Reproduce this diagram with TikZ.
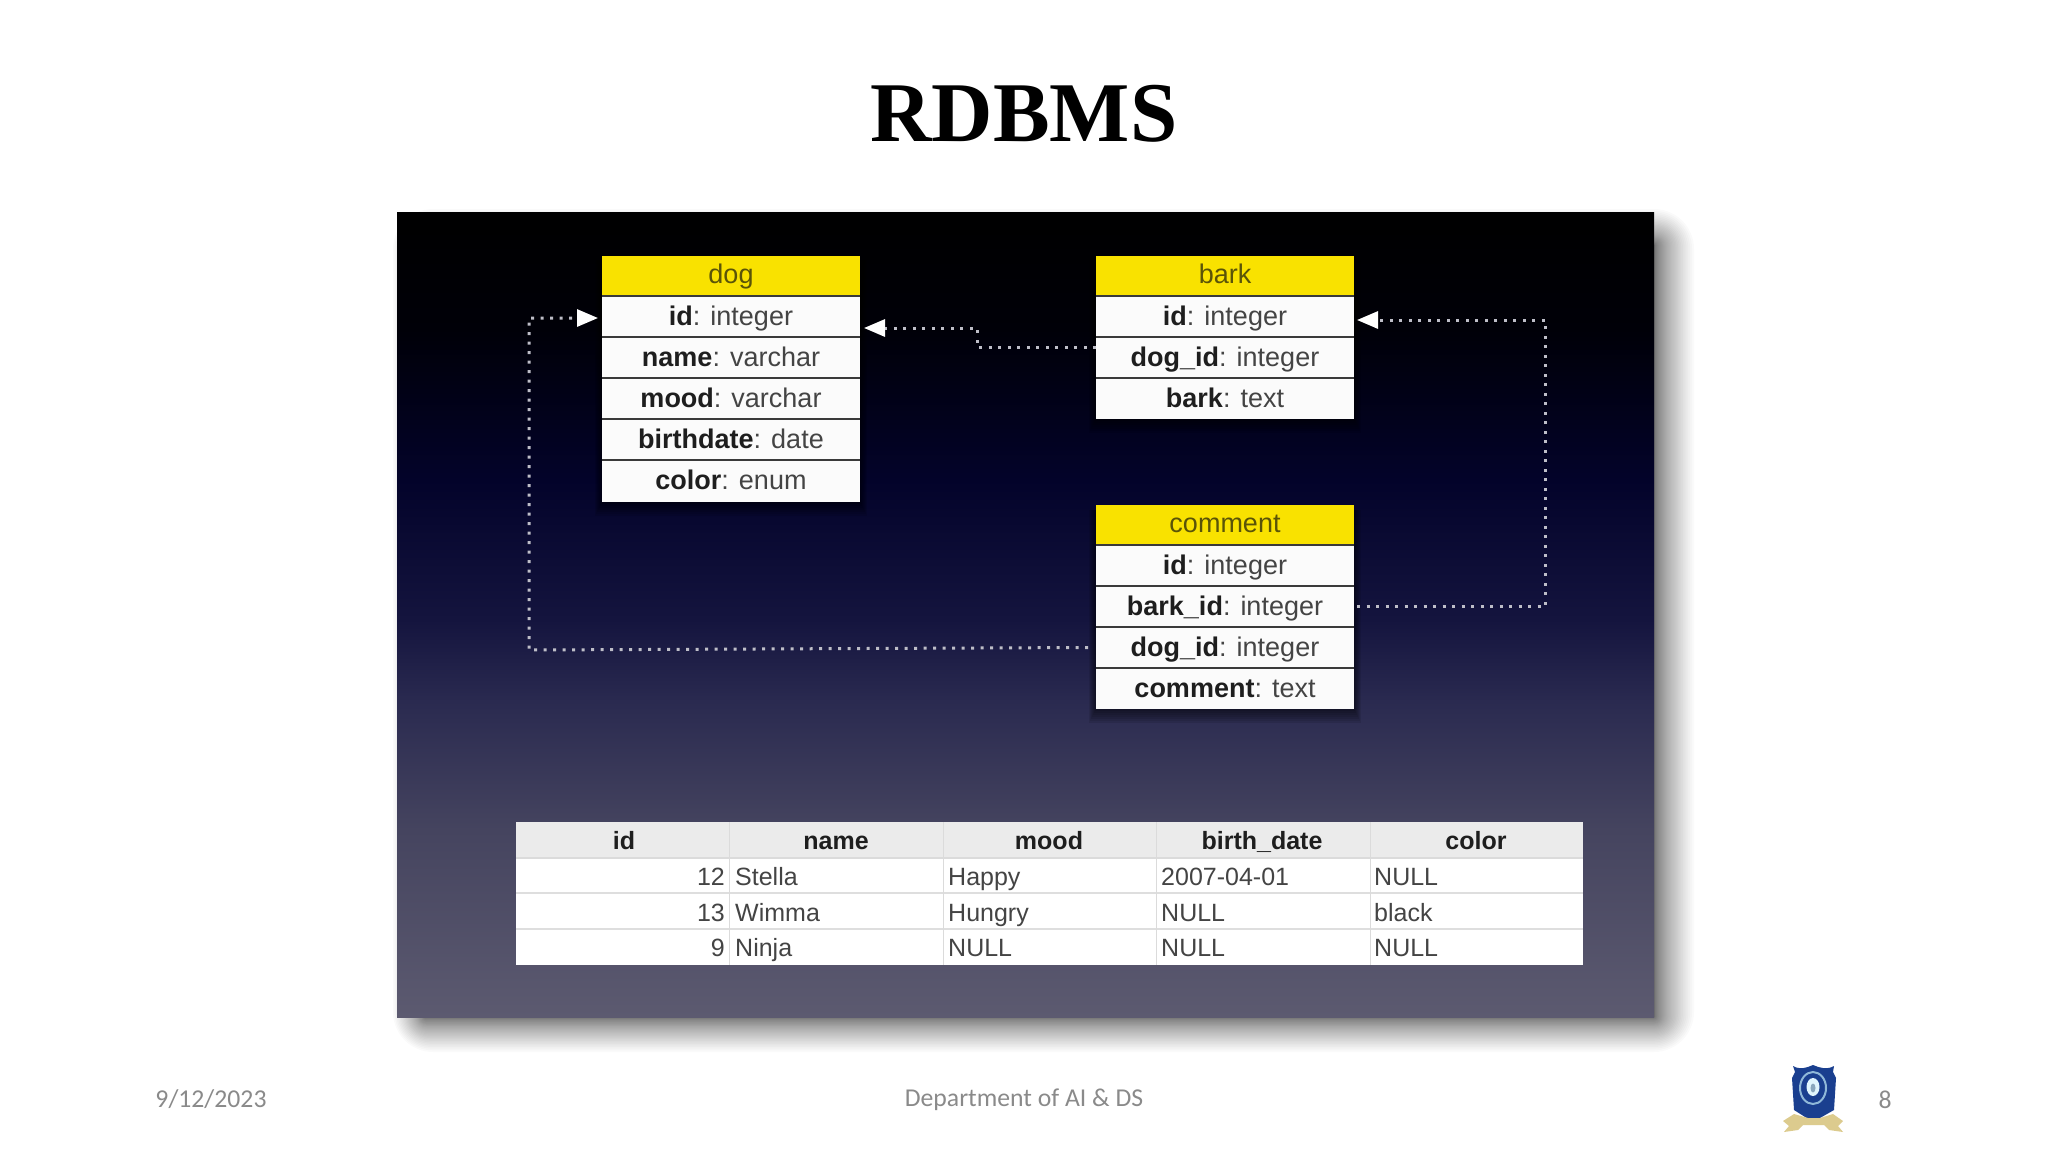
\documentclass[tikz,border=0pt]{standalone}
\usepackage{fontspec}
\setmainfont{Liberation Sans}
\newfontfamily\titlefont{Liberation Serif}
\newfontfamily\footfont{Carlito}
\usetikzlibrary{arrows.meta}
\definecolor{yel}{HTML}{F9E200}
\definecolor{rowfill}{HTML}{FBFBFB}
\definecolor{rowln}{HTML}{3A3A3A}
\definecolor{txtreg}{HTML}{444444}
\definecolor{txtbold}{HTML}{1E1E1E}
\definecolor{hdrtxt}{HTML}{5A5408}
\definecolor{dotc}{HTML}{BEBEC8}
\definecolor{footc}{HTML}{8A8A8A}
\definecolor{pa}{HTML}{000000}
\definecolor{pb}{HTML}{000008}
\definecolor{pc}{HTML}{03032A}
\definecolor{pd}{HTML}{14143E}
\definecolor{pe}{HTML}{2A2A50}
\definecolor{pf}{HTML}{45445F}
\definecolor{pg}{HTML}{5C5A70}
\definecolor{logob}{HTML}{1A3F8F}
\definecolor{logog}{HTML}{DCCB8E}
\definecolor{logor}{HTML}{8FB8D8}
\pgfdeclareverticalshading{panelgrad}{100bp}{color(0bp)=(pg);color(25bp)=(pg);color(36.6bp)=(pf);color(44.6bp)=(pe);color(49.7bp)=(pd);color(58.4bp)=(pc);color(67.7bp)=(pb);color(75bp)=(pa);color(100bp)=(pa)}
\tikzset{
  x=1pt,y=-1pt,
  rowbox/.style={minimum width=258pt,minimum height=41pt,inner sep=0pt,outer sep=0pt,fill=rowfill,anchor=north west,text=txtreg,font=\fontsize{27}{30}\selectfont,text height=21pt,text depth=4pt},
  hdrbox/.style={rowbox,fill=yel,text=hdrtxt,minimum height=40pt,text height=20pt,text depth=6pt},
  sepline/.style={draw=rowln,line width=2.5pt},
  dotline/.style={draw=dotc,line width=3pt,dash pattern=on 3pt off 6.5pt},
  dotarrow/.style={dotline,-{Triangle[length=21pt,width=17pt,fill=white,color=white]}},
  hcell/.style={font=\fontsize{25}{28}\selectfont\bfseries,text=txtbold,inner sep=0pt,anchor=base},
  cell/.style={font=\fontsize{25}{28}\selectfont,text=txtreg,inner sep=0pt,anchor=base west},
  rcell/.style={cell,anchor=base east},
  gridline/.style={draw=#1,line width=1.5pt},
  foot/.style={font=\footfont\fontsize{25.7}{28}\selectfont,text=footc,inner sep=0pt},
}
\newcommand{\rw}[2]{\textcolor{txtbold}{\textbf{#1}}: #2}
\begin{document}
\begin{tikzpicture}
\useasboundingbox (0,0) rectangle (2048,1152);
\fill[white] (0,0) rectangle (2048,1152);
% panel shadow
\foreach \k in {40,39,...,0}{
  \pgfmathsetmacro{\off}{\k*\k/40}
  \fill[black,opacity=0.02,rounded corners=\off pt] ({425-\off*0.8},{245-\off*0.9}) rectangle ({1654+\off},{1017+\off*0.875});
}
\node[inner sep=0pt,font=\titlefont\bfseries\fontsize{85}{90}\selectfont] (title) at (1024,114) {RDBMS};
% panel
\path[shading=panelgrad] (397,212) rectangle (1654,1017);
% table shadows
\foreach \k in {14,12,...,0}{
  \fill[black,opacity=0.09] ({602-\k*0.5},{260}) rectangle ({860+\k*0.5},{502+\k});
  \fill[black,opacity=0.09] ({1096-\k*0.5},{260}) rectangle ({1354+\k*0.5},{419+\k});
  \fill[black,opacity=0.09] ({1096-\k*0.5},{510}) rectangle ({1354+\k*0.5},{709+\k});
}
% dog
\node[hdrbox] (doghead) at (602,256) {dog};
\node[rowbox] (dog1) at (602,296) {\rw{id}{integer}};
\node[rowbox] (dog2) at (602,337) {\rw{name}{varchar}};
\node[rowbox] (dog3) at (602,378) {\rw{mood}{varchar}};
\node[rowbox] (dog4) at (602,419) {\rw{birthdate}{date}};
\node[rowbox] (dog5) at (602,460.5) {\rw{color}{enum}};
% bark
\node[hdrbox] (barkhead) at (1096,256) {bark};
\node[rowbox] (bark1) at (1096,296) {\rw{id}{integer}};
\node[rowbox] (bark2) at (1096,337) {\rw{dog\_id}{integer}};
\node[rowbox] (bark3) at (1096,378) {\rw{bark}{text}};
% comment
\node[hdrbox] (comhead) at (1096,505) {comment};
\node[rowbox] (com1) at (1096,545) {\rw{id}{integer}};
\node[rowbox] (com2) at (1096,586) {\rw{bark\_id}{integer}};
\node[rowbox] (com3) at (1096,627) {\rw{dog\_id}{integer}};
\node[rowbox] (com4) at (1096,668) {\rw{comment}{text}};
% separators
\foreach \n in {doghead,dog1,dog2,dog3,dog4,barkhead,bark1,bark2,comhead,com1,com2,com3}{
  \draw[sepline] (\n.south west) -- (\n.south east);
}
% connectors
\coordinate (b1) at (977,347);
\coordinate (b2) at (977,328);
\draw[dotarrow] ([yshift=10.5pt]bark2.west) -- (b1) -- (b2) -- ([xshift=4pt,yshift=-11.5pt]dog1.east);
\coordinate (c1) at (1545,606.5);
\coordinate (c2) at (1545,320);
\draw[dotarrow] ([xshift=3pt]com2.east) -- (c1) -- (c2) -- ([xshift=3pt,yshift=-3.5pt]bark1.east);
\coordinate (d1) at (529,650);
\coordinate (d2) at (529,318);
\draw[dotarrow] ([xshift=-8pt]com3.west) -- (d1) -- (d2) -- ([xshift=-4pt,yshift=-1.5pt]dog1.west);
% bottom table
\fill[black!8] (516,822) rectangle (1583,858);
\fill[white] (516,858) rectangle (1583,965);
\coordinate (tl) at (516,858);
\coordinate (tr) at (1583,858);
\coordinate (t2l) at (516,893);
\coordinate (t2r) at (1583,893);
\coordinate (t3l) at (516,929);
\coordinate (t3r) at (1583,929);
\draw[gridline=black!14] (tl) -- (tr);
\draw[gridline=black!13] (t2l) -- (t2r);
\draw[gridline=black!13] (t3l) -- (t3r);
\foreach \cx in {729,943,1156,1370}{
  \draw[gridline=black!14,line width=1pt] (\cx,822) -- (\cx,965);
}
\node[hcell] (h1) at (624,849) {id};
\node[hcell] (h2) at (836,849) {name};
\node[hcell] (h3) at (1049,849) {mood};
\node[hcell] (h4) at (1262,849) {birth\_date};
\node[hcell] (h5) at (1476,849) {color};
\node[rcell] (r1a) at (725,885) {12};
\node[cell] (r1b) at (735,885) {Stella};
\node[cell] (r1c) at (948,885) {Happy};
\node[cell] (r1d) at (1161,885) {2007-04-01};
\node[cell] (r1e) at (1374,885) {NULL};
\node[rcell] (r2a) at (725,921) {13};
\node[cell] (r2b) at (735,921) {Wimma};
\node[cell] (r2c) at (948,921) {Hungry};
\node[cell] (r2d) at (1161,921) {NULL};
\node[cell] (r2e) at (1374,921) {black};
\node[rcell] (r3a) at (725,956) {9};
\node[cell] (r3b) at (735,956) {Ninja};
\node[cell] (r3c) at (948,956) {NULL};
\node[cell] (r3d) at (1161,956) {NULL};
\node[cell] (r3e) at (1374,956) {NULL};
% footer
\node[foot] (fdate) at (211,1099.5) {9/12/2023};
\node[foot] (fdept) at (1024,1099.5) {Department of AI \& DS};
\node[foot] (fnum) at (1885,1099.5) {8};
% logo
\fill[logob] (1793,1066) .. controls (1800,1070) and (1806,1068) .. (1813,1065) .. controls (1820,1068) and (1827,1070) .. (1834,1066) -- (1833,1072) -- (1836,1078) -- (1834,1110) -- (1813,1122) -- (1794,1110) -- (1792,1078) -- (1795,1072) -- cycle;
\draw[logor,line width=2pt] (1813,1088) ellipse [x radius=13,y radius=16];
\fill[white!88!cyan] (1813,1087) ellipse [x radius=6.5,y radius=9];
\fill[logor!70!gray] (1813,1088) ellipse [x radius=2.5,y radius=4.5];
\fill[logog] (1783,1121) -- (1794,1114) -- (1808,1118) -- (1820,1118) -- (1833,1114) -- (1843,1121) -- (1838,1126) -- (1843,1132) -- (1829,1130) -- (1824,1125) -- (1803,1125) -- (1798,1130) -- (1784,1132) -- (1789,1126) -- cycle;
\end{tikzpicture}
\end{document}
